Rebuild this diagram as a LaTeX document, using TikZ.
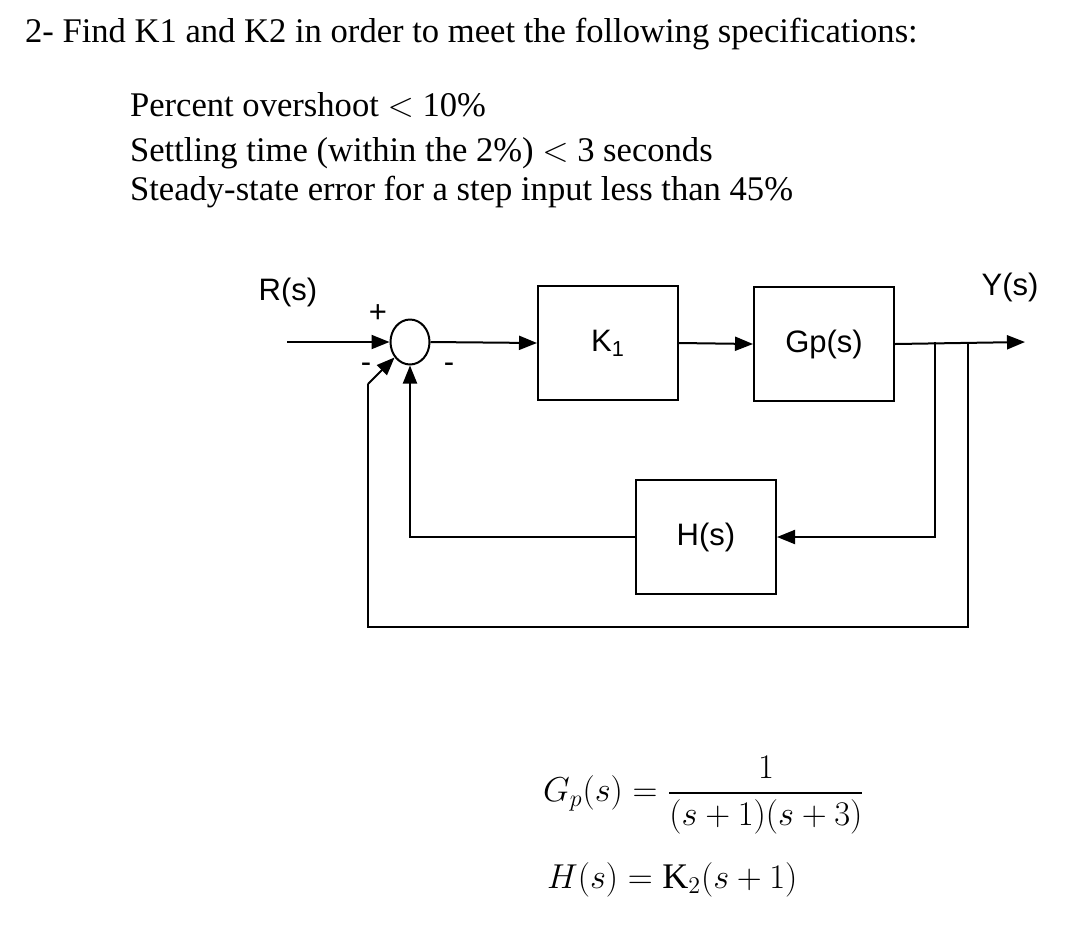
\documentclass[tikz,border=0pt]{standalone}
\usepackage{amsmath}
\usepackage{fontspec}
\setmainfont{Liberation Serif}
\setsansfont{Liberation Sans}
\usetikzlibrary{arrows.meta,shapes.geometric}
\tikzset{
  blk/.style={draw, line width=1pt, minimum width=70pt, minimum height=57pt, font=\sffamily\fontsize{15.5}{18}\selectfont},
  sig/.style={line width=1pt, -{Triangle[length=9pt,width=7pt]}},
  wire/.style={line width=1pt},
  lbl/.style={font=\sffamily\fontsize{15.5}{18}\selectfont},
  txt/.style={anchor=base west, font=\fontsize{17.3}{20}\selectfont}
}
\begin{document}
\begin{tikzpicture}[x=0.5pt,y=-0.5pt]
  \useasboundingbox (0,0) rectangle (1088,928);
  % text
  \node[txt] (title) at (18,42) {2- Find K1 and K2 in order to meet the following specifications:};
  \node[txt] (spec1) at (123,116) {Percent overshoot $<$ 10\%};
  \node[txt] (spec2) at (123,161) {Settling time (within the 2\%) $<$ 3 seconds};
  \node[txt] (spec3) at (123,200) {Steady-state error for a step input less than 45\%};
  % blocks
  \node[draw, line width=1pt, ellipse, minimum width=19.5pt, minimum height=22.5pt, inner sep=0pt] (sum) at (410,342) {};
  \node[blk] (k1) at (608,343) {K\textsubscript{1}};
  \node[blk] (gp) at (824,344) {Gp(s)};
  \node[blk] (h) at (706,537) {H(s)};
  \coordinate (in) at (287,342);
  \coordinate (out) at (1025,342);
  \coordinate (tapA) at (935,342);
  \coordinate (tapB) at (968,342);
  \coordinate (dg) at (368,384);
  % connectors
  \draw[sig] (in) -- (sum.west);
  \draw[sig] (sum.east) -- (k1.west);
  \draw[sig] (k1.east) -- (gp.west);
  \draw[sig] (gp.east) -- (out);
  \draw[sig] (tapA) |- (h.east);
  \draw[sig] (h.west) -| (sum.south);
  \draw[wire] (tapB) -- (968,627) -| (dg);
  \draw[sig] (dg) -- (sum.-135);
  % labels
  \node[lbl] (rs) at (288,292) {R(s)};
  \node[lbl] (ys) at (1010,287) {Y(s)};
  \node[lbl] (plus) at (378,314) {+};
  \node[lbl] (m1) at (366,368) {-};
  \node[lbl] (m2) at (449,368) {-};
  % formulas
  \node[anchor=west, font=\fontsize{18}{21}\selectfont] (geq) at (536,795) {$G_p(s)=\dfrac{1}{(s+1)(s+3)}$};
  \node[anchor=west, font=\fontsize{18}{21}\selectfont] (heq) at (540,880) {$H(s)=\mathrm{K}_2(s+1)$};
\end{tikzpicture}
\end{document}
